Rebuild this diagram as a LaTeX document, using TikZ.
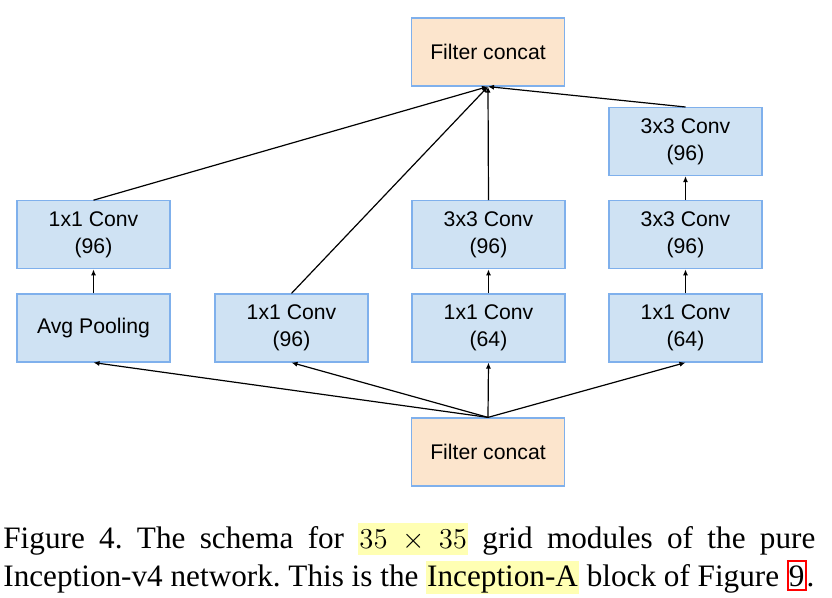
\documentclass[tikz,border=0pt]{standalone}
\usepackage[no-math]{fontspec}
\setmainfont{Liberation Serif}
\setsansfont{Liberation Sans}
\usepackage{tikz}
\usetikzlibrary{arrows.meta,positioning}

\definecolor{convfill}{HTML}{CFE2F3}
\definecolor{concatfill}{HTML}{FCE5CD}
\definecolor{boxline}{HTML}{7FB0EC}
\definecolor{hlyellow}{HTML}{FFFFB3}

\newcommand{\hlbox}[1]{{\setlength{\fboxsep}{0.5pt}\colorbox{hlyellow}{\rule[-3pt]{0pt}{15pt}#1}}}
\newcommand{\refbox}[1]{{\setlength{\fboxsep}{0pt}\setlength{\fboxrule}{1pt}\fcolorbox{red}{white}{\rule[-1.5pt]{0pt}{13.5pt}#1}}}

\begin{document}
\begin{tikzpicture}[x=0.5pt,y=-0.5pt]
    \tikzstyle{block}=[rectangle,draw=boxline,line width=0.6pt,minimum width=76.5pt,minimum height=34pt,inner sep=0pt,align=center,font=\sffamily\fontsize{10.6}{13.4}\selectfont]
    \tikzstyle{conv}=[block,fill=convfill]
    \tikzstyle{concat}=[block,fill=concatfill]
    \tikzstyle{arr}=[-{Latex[length=3pt,width=2.6pt]},line width=0.6pt]
    \useasboundingbox (0,0) rectangle (832,598);
      \node[concat] (top) at (488,52) {Filter concat};
      \node[concat] (bottom) at (488,452) {Filter concat};
      % first row
      \node[conv] (pool) at (93.5,328) {Avg Pooling};
      \node[conv] (b2) at (291.5,328) {1x1 Conv\\(96)};
      \node[conv] (b3a) at (488.5,328) {1x1 Conv\\(64)};
      \node[conv] (b4a) at (685.5,328) {1x1 Conv\\(64)};
      % second row
      \node[conv] (b1) [above=12pt of pool] {1x1 Conv\\(96)};
      \node[conv] (b3b) [above=12pt of b3a] {3x3 Conv\\(96)};
      \node[conv] (b4b) [above=12pt of b4a] {3x3 Conv\\(96)};
      \node[conv] (b4c) [above=12pt of b4b] {3x3 Conv\\(96)};
      % connections
      \foreach \n in {pool,b2,b3a,b4a}
        \draw[arr] (bottom.north) -- (\n.south);
      \draw[arr] (pool) -- (b1);
      \draw[arr] (b3a) -- (b3b);
      \draw[arr] (b4a) -- (b4b);
      \draw[arr] (b4b) -- (b4c);
      \foreach \n in {b1,b2,b3b,b4c}
        \draw[arr] (\n.north) -- (top.south);
      % caption
      \node[anchor=north west,inner sep=0pt,text width=406pt,align=justify,font=\fontsize{15.6}{19}\selectfont\frenchspacing] (caption) at (3,523)
        {Figure 4. The schema for \hlbox{$35\;\times\;35$} grid modules of the pure\linebreak Inception-v4 network. This is the \hlbox{Inception-A} block of Figure~\refbox{9}.};
\end{tikzpicture}
\end{document}
